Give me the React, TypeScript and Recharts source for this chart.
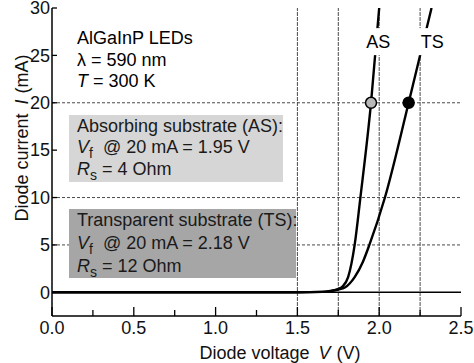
import React from "react";
import {
  ComposedChart,
  Line,
  Scatter,
  XAxis,
  YAxis,
  ReferenceLine,
} from "recharts";

// I-V curves
const asVoltage = [0, 1.5, 1.65, 1.7, 1.75, 1.775, 1.81, 1.85, 1.885, 1.95, 2.0];
const asCurrent = [0, 0, 0.05, 0.15, 0.35, 0.6, 1.6, 5, 10, 20, 30];
const tsVoltage = [0, 1.5, 1.65, 1.7, 1.75, 1.79, 1.85, 1.9, 1.94, 2.035, 2.18, 2.32];
const tsCurrent = [0, 0, 0.05, 0.12, 0.3, 0.5, 1.6, 3.2, 5, 10, 20, 30];

// operating points at 20 mA
const markerVoltage = [1.95, 2.18];
const markerCurrent = [20, 20];
const markerFill = ["#b8b8b8", "#000"];

// curve names
const tagNames = ["AS", "TS"];
const tagVoltage = [1.994, 2.325];
const tagCurrent = [26.4, 26.4];

const voltageTicks = [0, 0.25, 0.5, 0.75, 1.0, 1.25, 1.5, 1.75, 2.0, 2.25, 2.5];
const currentTicks = [0, 5, 10, 15, 20, 25, 30];
const gridVoltages = [1.5, 1.75, 2.0, 2.25];
const gridCurrents = [5, 10, 20];

const FONT = '"Liberation Sans", Arial, Helvetica, sans-serif';

const asData = asVoltage.map((v, k) => ({ v, i: asCurrent[k] }));
const tsData = tsVoltage.map((v, k) => ({ v, i: tsCurrent[k] }));
const markerData = markerVoltage.map((v, k) => ({ v, i: markerCurrent[k], fill: markerFill[k] }));
const tagData = tagNames.map((name, k) => ({ v: tagVoltage[k], i: tagCurrent[k], name }));

const isMajor = (val: number) => Math.abs(val * 2 - Math.round(val * 2)) < 1e-6;

const BottomTick = ({ x, y, payload }: any) => {
  const major = isMajor(payload.value);
  return (
    <g>
      <line x1={x} x2={x} y1={y} y2={y - (major ? 9 : 6)} stroke="#000" strokeWidth={1.3} />
      {major && (
        <text x={x} y={y + 18} textAnchor="middle" fontSize={18} fontFamily={FONT} fill="#111">
          {payload.value.toFixed(1)}
        </text>
      )}
    </g>
  );
};

const TopTick = ({ x, y }: any) => (
  <line x1={x} x2={x} y1={y} y2={y + 7} stroke="#000" strokeWidth={1.3} />
);

const LeftTick = ({ x, y, payload }: any) => (
  <g>
    <line x1={x} x2={x + 5} y1={y} y2={y} stroke="#000" strokeWidth={1.3} />
    <text x={x - 2} y={y} dy="0.35em" textAnchor="end" fontSize={18} fontFamily={FONT} fill="#111">
      {payload.value}
    </text>
  </g>
);

const RightTick = ({ x, y }: any) => (
  <line x1={x} x2={x - 5} y1={y} y2={y} stroke="#000" strokeWidth={1.3} />
);

const Marker = ({ cx, cy, payload }: any) => (
  <circle cx={cx} cy={cy} r={5.5} fill={payload.fill} stroke="#000" strokeWidth={1.5} />
);

const CurveTag = ({ cx, cy, payload }: any) => (
  <g>
    <rect x={cx - 16} y={cy - 14} width={32} height={27} fill="#fff" />
    <text x={cx} y={cy} dy="0.35em" textAnchor="middle" fontSize={18} fontFamily={FONT} fill="#000">
      {payload.name}
    </text>
  </g>
);

const XTitle = () => (
  <text x={280} y={359} textAnchor="middle" fontSize={18} fontFamily={FONT} fill="#111">
    <tspan>Diode voltage </tspan>
    <tspan fontStyle="italic" dx={4}>V</tspan>
    <tspan dx={6}>(V)</tspan>
  </text>
);

const boxText: React.CSSProperties = {
  position: "absolute",
  fontFamily: FONT,
  fontSize: 18,
  color: "#1a1a1a",
  whiteSpace: "nowrap",
  boxSizing: "border-box",
};

const Sub = ({ children }: { children: React.ReactNode }) => (
  <span style={{ fontSize: 14, position: "relative", top: 5 }}>{children}</span>
);

export default function App() {
  return (
    <div style={{ position: "absolute", left: 0, top: 0, width: 474, height: 363, background: "#fff" }}>
      <ComposedChart width={474} height={363} margin={{ top: 8, right: 13, bottom: 0, left: 0 }}>
        <XAxis
          dataKey="v"
          type="number"
          domain={[0, 2.5]}
          ticks={voltageTicks}
          allowDataOverflow
          height={47}
          tickSize={0}
          tickMargin={0}
          tickLine={false}
          axisLine={{ stroke: "#000", strokeWidth: 1.5 }}
          tick={<BottomTick />}
          interval={0}
          label={<XTitle />}
        />
        <XAxis
          xAxisId="top"
          orientation="top"
          dataKey="v"
          type="number"
          domain={[0, 2.5]}
          ticks={voltageTicks}
          allowDataOverflow
          height={0}
          tickSize={0}
          tickMargin={0}
          tickLine={false}
          axisLine={{ stroke: "#000", strokeWidth: 1.5 }}
          tick={<TopTick />}
          interval={0}
        />
        <YAxis
          dataKey="i"
          type="number"
          domain={[-2.5, 30]}
          ticks={currentTicks}
          allowDataOverflow
          width={52}
          tickSize={0}
          tickMargin={0}
          tickLine={false}
          axisLine={{ stroke: "#000", strokeWidth: 1.5 }}
          tick={<LeftTick />}
          interval={0}
          label={
            <text
              x={15}
              y={149}
              transform="rotate(-90 15 149)"
              textAnchor="middle"
              fontSize={18}
              fontFamily={FONT}
              fill="#111"
            >
              <tspan>Diode current </tspan>
              <tspan fontStyle="italic" dx={4}>I</tspan>
              <tspan dx={6}>(mA)</tspan>
            </text>
          }
        />
        <YAxis
          yAxisId="right"
          orientation="right"
          type="number"
          domain={[-2.5, 30]}
          ticks={currentTicks.slice(0, 6)}
          allowDataOverflow
          width={0}
          tickSize={0}
          tickMargin={0}
          tickLine={false}
          axisLine={{ stroke: "#000", strokeWidth: 1.5 }}
          tick={<RightTick />}
          interval={0}
        />

        {gridVoltages.map((v) => (
          <ReferenceLine key={"gv" + v} x={v} stroke="#4a4a4a" strokeWidth={1} strokeDasharray="4 1" />
        ))}
        {gridCurrents.map((c) => (
          <ReferenceLine key={"gc" + c} y={c} stroke="#4a4a4a" strokeWidth={1} strokeDasharray="3 2" />
        ))}
        <ReferenceLine y={0} stroke="#000" strokeWidth={1.5} />

        <Line data={asData} dataKey="i" type="monotone" stroke="#000" strokeWidth={2.4} dot={false} isAnimationActive={false} />
        <Line data={tsData} dataKey="i" type="monotone" stroke="#000" strokeWidth={2.4} dot={false} isAnimationActive={false} />
        <Scatter data={tagData} dataKey="i" shape={<CurveTag />} isAnimationActive={false} />
        <Scatter data={markerData} dataKey="i" shape={<Marker />} isAnimationActive={false} />
      </ComposedChart>

      <div style={{ ...boxText, left: 77, top: 28, lineHeight: "21.5px", color: "#000" }}>
        <div>AlGaInP LEDs</div>
        <div>λ = 590 nm</div>
        <div>
          <i>T</i> = 300 K
        </div>
      </div>

      <div style={{ ...boxText, left: 69, top: 115, width: 214, height: 67, background: "#d6d6d6", padding: "1px 0 0 8px", lineHeight: "21px" }}>
        <div>Absorbing substrate (AS):</div>
        <div>
          <i>V</i>
          <Sub>f</Sub>&nbsp; @ 20 mA = 1.95 V
        </div>
        <div>
          <i>R</i>
          <Sub>s</Sub> = 4 Ohm
        </div>
      </div>

      <div style={{ ...boxText, left: 69, top: 209, width: 227, height: 69, background: "#a6a6a6", padding: "0 0 0 8px", lineHeight: "22.5px" }}>
        <div>Transparent substrate (TS):</div>
        <div>
          <i>V</i>
          <Sub>f</Sub>&nbsp; @ 20 mA = 2.18 V
        </div>
        <div>
          <i>R</i>
          <Sub>s</Sub> = 12 Ohm
        </div>
      </div>
    </div>
  );
}
